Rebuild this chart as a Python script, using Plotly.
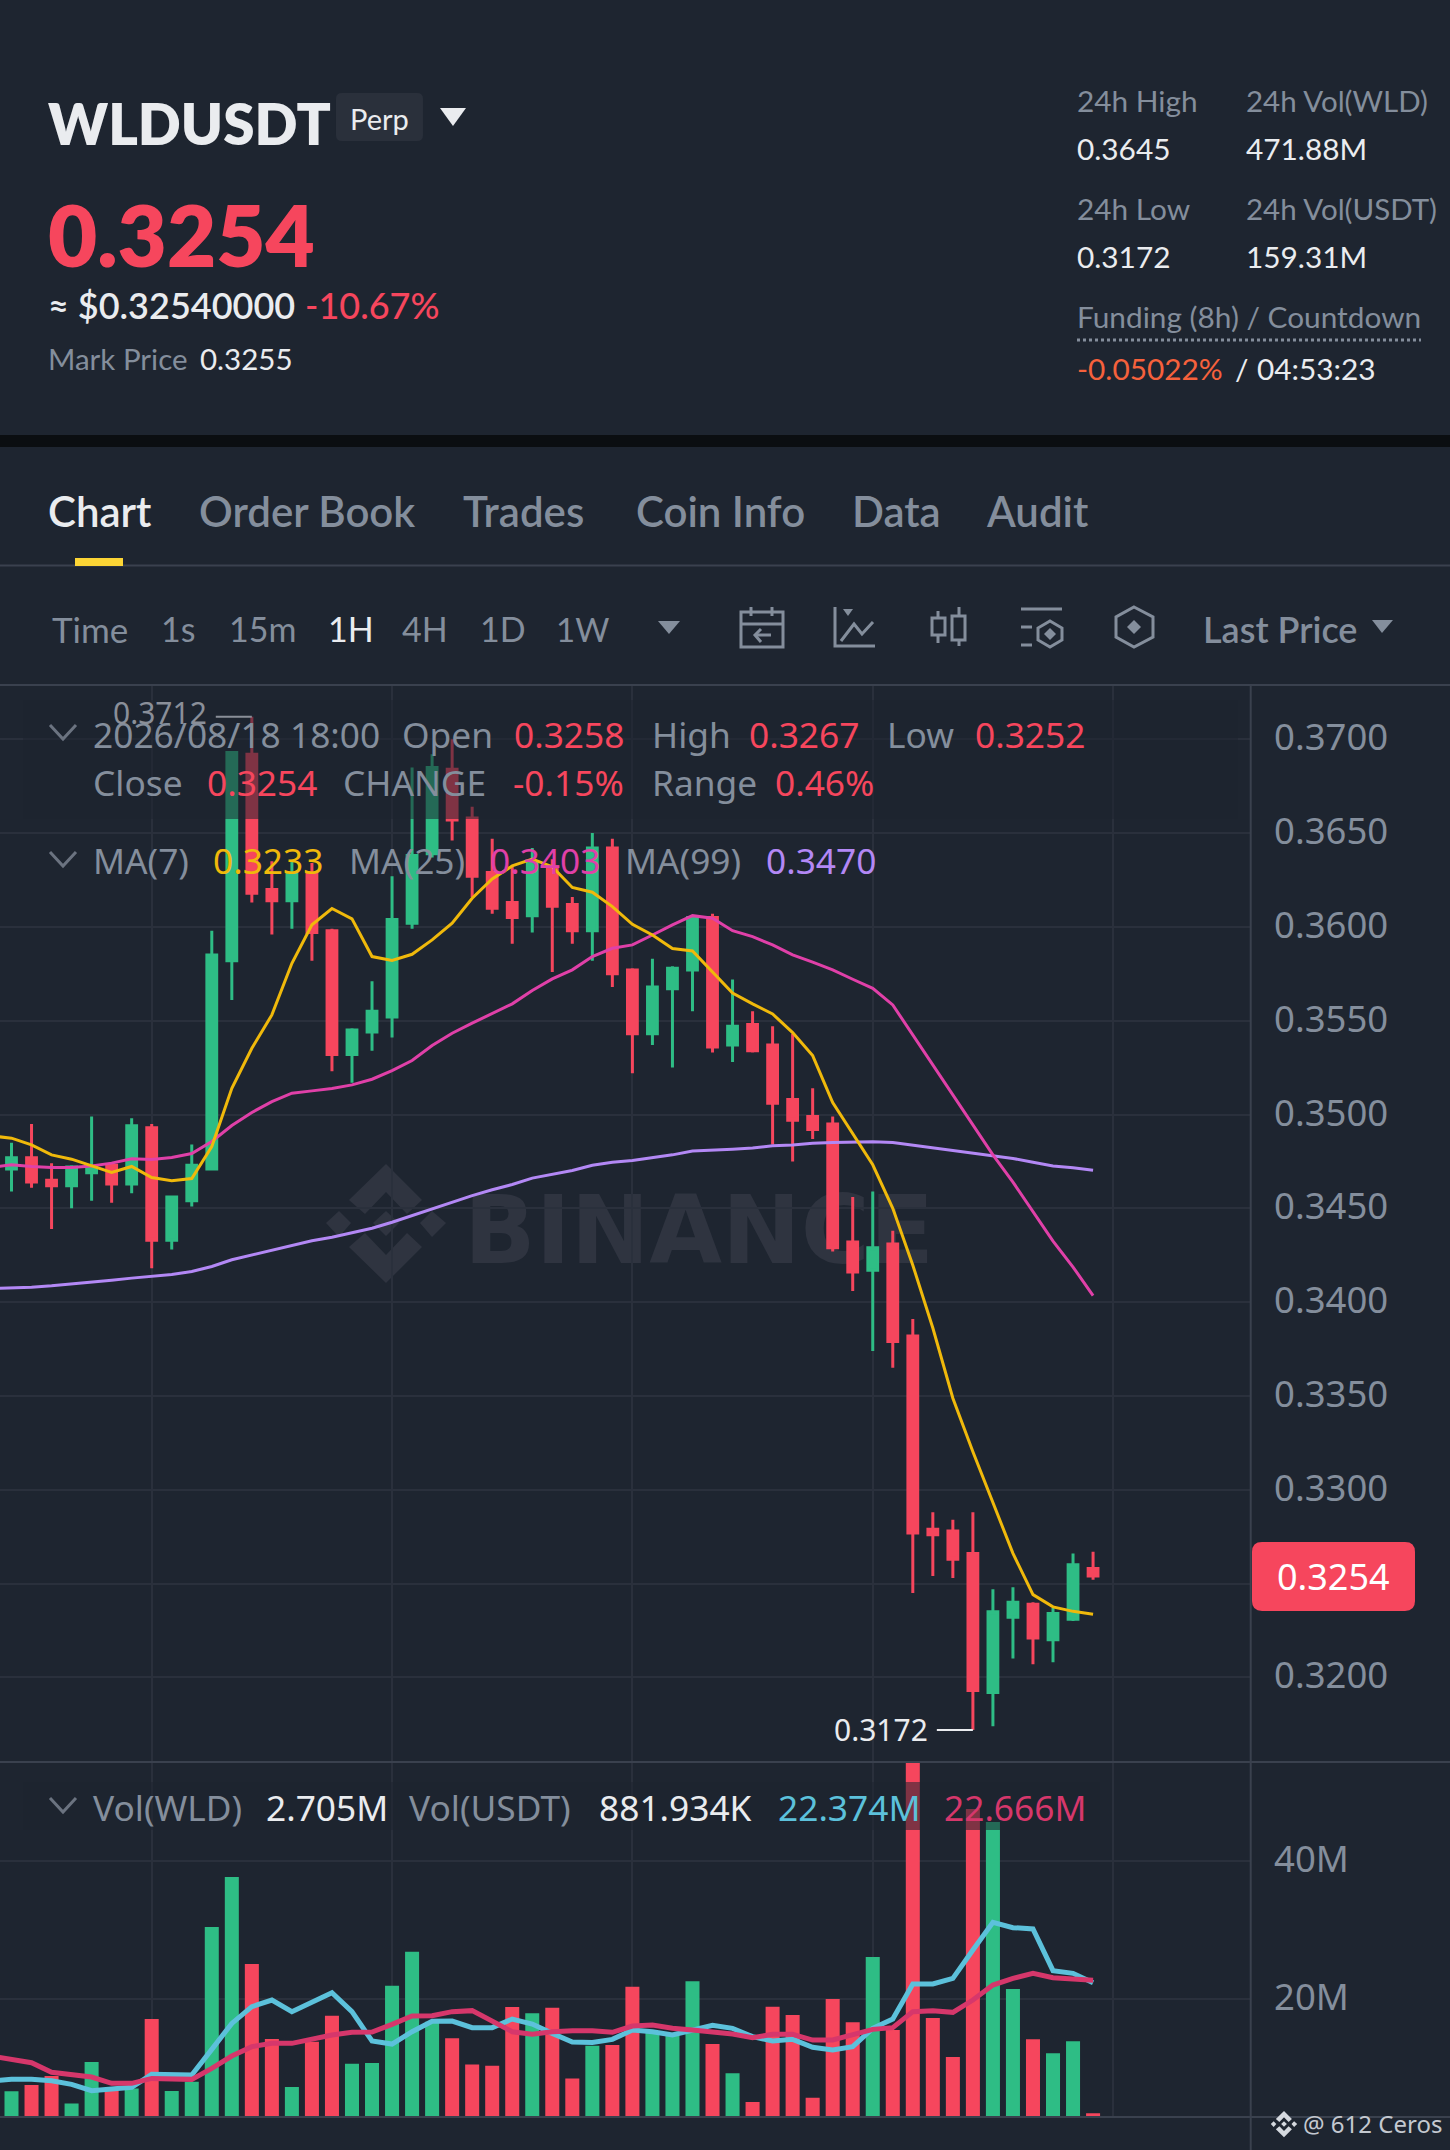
import plotly.graph_objects as go

W = 1450
H = 2150

BG = "#1E2530"
GRID = "#2A303C"
LINE = "#3A414E"
GREEN = "#2EBD85"
RED = "#F6465D"
GRAY = "#848E9C"
WHITE = "#EAECEF"
YELLOW = "#F0B90B"
MAGENTA = "#E040A8"
PURPLE = "#B388F5"

# candles
candle_x = list(range(55))
open_prices = [0.3471, 0.3477, 0.3465, 0.3462, 0.3469, 0.3473, 0.3463, 0.3493, 0.3433, 0.3454, 0.3471,
               0.3582, 0.3692, 0.3620, 0.3614, 0.3628, 0.3598, 0.3532, 0.3544, 0.3552, 0.3602, 0.3639,
               0.3684, 0.3658, 0.3629, 0.3613, 0.3606, 0.3632, 0.3612, 0.3598, 0.3642, 0.3577, 0.3543,
               0.3567, 0.3577, 0.3605, 0.3537, 0.3548, 0.3537, 0.3508, 0.3499, 0.3495, 0.3432, 0.3417,
               0.3431, 0.3382, 0.3279, 0.3278, 0.3266, 0.3192, 0.3232, 0.3239, 0.3220, 0.3231, 0.3258]
high_prices = [0.3485, 0.3495, 0.3474, 0.3473, 0.3499, 0.3474, 0.3498, 0.3495, 0.3456, 0.3484, 0.3598,
               0.3693, 0.3712, 0.3635, 0.3635, 0.3634, 0.3599, 0.3546, 0.3571, 0.3627, 0.3685, 0.3692,
               0.3700, 0.3664, 0.3647, 0.3632, 0.3642, 0.3636, 0.3616, 0.3650, 0.3647, 0.3578, 0.3583,
               0.3579, 0.3606, 0.3607, 0.3572, 0.3555, 0.3547, 0.3543, 0.3514, 0.3499, 0.3456, 0.3459,
               0.3438, 0.3391, 0.3288, 0.3284, 0.3288, 0.3247, 0.3248, 0.3240, 0.3237, 0.3266, 0.3267]
low_prices = [0.3459, 0.3461, 0.3439, 0.3450, 0.3454, 0.3453, 0.3458, 0.3418, 0.3428, 0.3451, 0.3471,
              0.3561, 0.3613, 0.3596, 0.3599, 0.3582, 0.3523, 0.3517, 0.3534, 0.3541, 0.3599, 0.3637,
              0.3646, 0.3616, 0.3607, 0.3591, 0.3597, 0.3576, 0.3591, 0.3582, 0.3568, 0.3522, 0.3537,
              0.3525, 0.3555, 0.3533, 0.3528, 0.3533, 0.3484, 0.3475, 0.3487, 0.3427, 0.3406, 0.3374,
              0.3365, 0.3245, 0.3254, 0.3253, 0.3172, 0.3174, 0.3210, 0.3207, 0.3208, 0.3230, 0.3252]
close_prices = [0.3477, 0.3464, 0.3462, 0.3472, 0.3472, 0.3463, 0.3494, 0.3433, 0.3456, 0.3473, 0.3585,
                0.3693, 0.3618, 0.3614, 0.3628, 0.3597, 0.3532, 0.3545, 0.3555, 0.3604, 0.3638, 0.3685,
                0.3657, 0.3627, 0.3610, 0.3605, 0.3634, 0.3611, 0.3598, 0.3642, 0.3575, 0.3543, 0.3568,
                0.3578, 0.3605, 0.3536, 0.3547, 0.3534, 0.3506, 0.3497, 0.3492, 0.3429, 0.3416, 0.3429,
                0.3379, 0.3277, 0.3276, 0.3263, 0.3193, 0.3235, 0.3240, 0.3221, 0.3234, 0.3260, 0.3254]

# moving averages start one candle left of the visible edge
ma_x = list(range(-1, 55))
ma7 = [0.34886, 0.34874, 0.34838, 0.34785, 0.34762, 0.34726, 0.34691, 0.34723, 0.34664, 0.34647, 0.34659,
       0.34829, 0.3514, 0.35353, 0.35531, 0.35806, 0.36011, 0.36098, 0.36043, 0.35842, 0.35821, 0.35854,
       0.35931, 0.3602, 0.36153, 0.36256, 0.36325, 0.36362, 0.36321, 0.3621, 0.36185, 0.36108, 0.36014,
       0.35957, 0.35885, 0.35872, 0.35762, 0.35647, 0.3559, 0.35536, 0.35437, 0.35314, 0.35064, 0.349,
       0.34732, 0.345, 0.34197, 0.33862, 0.33488, 0.33203, 0.32937, 0.32661, 0.32441, 0.32376, 0.32352,
       0.32337]
ma25 = [0.34719, 0.34732, 0.34723, 0.34718, 0.34718, 0.34726, 0.34741, 0.34764, 0.3476, 0.34771, 0.34792,
        0.34856, 0.34941, 0.35011, 0.35069, 0.35114, 0.35126, 0.35139, 0.35158, 0.35188, 0.35234, 0.35288,
        0.35368, 0.35433, 0.35487, 0.3554, 0.3559, 0.35661, 0.35723, 0.35771, 0.35842, 0.35886, 0.35904,
        0.35957, 0.36011, 0.3606, 0.36046, 0.3598, 0.35948, 0.35904, 0.35851, 0.35812, 0.35771, 0.35721,
        0.35673, 0.35584, 0.35425, 0.35265, 0.35105, 0.34945, 0.34785, 0.3464, 0.34482, 0.34325, 0.34187,
        0.34035]
ma99 = [0.34073, 0.34076, 0.3408, 0.34087, 0.34096, 0.34108, 0.34117, 0.34128, 0.34137, 0.34147, 0.34163,
        0.3419, 0.34226, 0.34252, 0.34275, 0.34302, 0.34327, 0.34346, 0.34371, 0.34394, 0.34426, 0.34462,
        0.34497, 0.34533, 0.34568, 0.34599, 0.34627, 0.34661, 0.34682, 0.34702, 0.3473, 0.34746, 0.34755,
        0.34769, 0.34785, 0.34805, 0.34812, 0.34815, 0.34821, 0.34833, 0.34838, 0.34847, 0.34851, 0.34853,
        0.34855, 0.34851, 0.34837, 0.34824, 0.34812, 0.34796, 0.34782, 0.34766, 0.34746, 0.34726, 0.34716,
        0.34703]

# volume in millions
volumes = [6.59, 7.51, 8.81, 4.84, 10.85, 6.68, 7.0, 17.09, 6.63, 7.99, 30.46, 37.72, 25.08, 14.19, 7.22,
           13.8, 17.58, 10.61, 10.7, 21.94, 26.88, 16.7, 14.29, 10.5, 10.31, 18.84, 17.92, 18.74, 8.47,
           13.22, 13.32, 21.79, 15.25, 14.77, 22.57, 13.46, 9.2, 5.04, 18.89, 17.68, 5.67, 20.0, 16.61,
           26.1, 15.5, 56.0, 17.24, 11.57, 47.6, 45.71, 21.45, 14.14, 12.11, 13.85, 3.4]
vol_ma_a = [8.09, 8.33, 8.33, 8.14, 7.60, 6.68, 6.92, 7.17, 9.06, 8.96, 8.96, 12.69, 16.46, 18.89, 19.85,
            18.16, 19.47, 20.92, 18.16, 13.90, 13.46, 15.25, 16.76, 16.80, 15.84, 15.84, 17.09, 16.37,
            15.01, 13.75, 13.70, 14.14, 15.50, 15.25, 14.77, 15.40, 16.17, 15.74, 14.53, 13.90, 14.14,
            12.98, 12.59, 13.08, 15.74, 17.09, 22.18, 22.18, 23.00, 27.12, 31.14, 30.36, 30.17, 24.12,
            23.73, 22.37]
vol_ma_b = [11.72, 11.28, 10.75, 9.35, 8.96, 8.67, 7.75, 7.75, 8.47, 8.47, 8.33, 9.93, 11.72, 13.08, 13.56,
            13.56, 14.14, 14.77, 15.16, 15.21, 16.32, 17.53, 17.58, 18.16, 18.31, 16.71, 15.25, 14.87,
            15.25, 15.40, 15.40, 15.16, 16.08, 16.22, 15.74, 15.50, 15.16, 14.92, 14.38, 14.87, 14.87,
            14.04, 14.04, 14.77, 15.59, 15.84, 18.16, 18.31, 18.06, 19.85, 22.03, 23.00, 23.73, 23.10,
            22.86, 22.71]

price_ticks = [0.32, 0.325, 0.33, 0.335, 0.34, 0.345, 0.35, 0.355, 0.36, 0.365, 0.37]
price_labels = ["0.3200", "", "0.3300", "0.3350", "0.3400", "0.3450", "0.3500", "0.3550", "0.3600", "0.3650", "0.3700"]
vol_ticks = [20, 40]
vol_labels = ["20M", "40M"]
time_ticks = [7, 19, 31, 43, 55]

PLOT_RIGHT = 1250.7


def px(x):
    return x / W


def py(y):
    return 1 - y / H


annotations = []
shapes = []


def label(text, x, y, color=GRAY, size=30, font="Noto Sans", anchor="left", weight=None):
    if font == "Noto Sans":
        x -= 1
    annotations.append(dict(
        text=text, x=px(x - 1.5), y=py(y - 1.2), xref="paper", yref="paper", xanchor=anchor, yanchor="middle",
        showarrow=False, borderpad=0, font=dict(family=font, size=size, color=color, weight=weight),
    ))


def box(x0, y0, x1, y1, fill, layer="above"):
    shapes.append(dict(type="rect", xref="paper", yref="paper", x0=px(x0), x1=px(x1), y0=py(y0), y1=py(y1),
                       fillcolor=fill, line_width=0, layer=layer))


def hline(x0, x1, y, color=LINE, width=2, dash="solid"):
    shapes.append(dict(type="line", xref="paper", yref="paper", x0=px(x0), x1=px(x1), y0=py(y), y1=py(y),
                       line=dict(color=color, width=width, dash=dash), layer="above"))


def vline(x, y0, y1, color=LINE, width=2):
    shapes.append(dict(type="line", xref="paper", yref="paper", x0=px(x), x1=px(x), y0=py(y0), y1=py(y1),
                       line=dict(color=color, width=width), layer="above"))


def poly(points, fill=None, stroke=None, width=3, close=True, layer="above"):
    path = "M " + " L ".join(f"{px(a):.5f} {py(b):.5f}" for a, b in points)
    if close:
        path += " Z"
    shapes.append(dict(type="path", xref="paper", yref="paper", path=path, fillcolor=fill,
                       line=dict(color=stroke or "rgba(0,0,0,0)", width=width if stroke else 0), layer=layer))


def round_rect(x0, y0, x1, y1, r, fill):
    p = (f"M {px(x0+r):.5f} {py(y0):.5f} L {px(x1-r):.5f} {py(y0):.5f} "
         f"Q {px(x1):.5f} {py(y0):.5f} {px(x1):.5f} {py(y0+r):.5f} L {px(x1):.5f} {py(y1-r):.5f} "
         f"Q {px(x1):.5f} {py(y1):.5f} {px(x1-r):.5f} {py(y1):.5f} L {px(x0+r):.5f} {py(y1):.5f} "
         f"Q {px(x0):.5f} {py(y1):.5f} {px(x0):.5f} {py(y1-r):.5f} L {px(x0):.5f} {py(y0+r):.5f} "
         f"Q {px(x0):.5f} {py(y0):.5f} {px(x0+r):.5f} {py(y0):.5f} Z")
    shapes.append(dict(type="path", xref="paper", yref="paper", path=p, fillcolor=fill, line_width=0, layer="above"))


def binance_logo(cx, cy, s, fill, layer):
    parts = [
        [(0, -59), (36, -23), (21, -9), (0, -31), (-21, -9), (-37, -23)],
        [(0, 60), (36, 24), (21, 10), (0, 32), (-21, 10), (-37, 24)],
        [(-60, 0), (-47, -12), (-35, 0), (-47, 14)],
        [(60, 0), (46, -12), (34, 0), (46, 14)],
        [(0, -12), (13, 0), (0, 13), (-13, 0)],
    ]
    for part in parts:
        poly([(cx + a * s, cy + b * s) for a, b in part], fill=fill, layer=layer)


# page bands and dividers
box(0, 435, W, 447, "#0B0E11")
hline(0, W, 565.5)
box(75, 558, 123, 566, "#FCD535")
hline(0, W, 685)
hline(0, W, 1762)
hline(0, W, 2117)
vline(PLOT_RIGHT, 686, H)

# watermark sits behind the candles
binance_logo(386, 1223, 1.0, "#2F3440", "below")
shapes.append(dict(type="rect", xref="paper", yref="paper", x0=px(470), x1=px(928), y0=py(1180), y1=py(1266),
                   line_width=0, fillcolor="rgba(0,0,0,0)", layer="below",
                   label=dict(text="BINANCE", textposition="middle center",
                              font=dict(family="DejaVu Sans", size=94, color="#2F3440", weight="bold"))))

# dimmed strips behind the legend rows
box(23, 700, 1238, 819, "rgba(30,37,48,0.55)")
box(23, 1782, 1100, 1830, "rgba(30,37,48,0.55)")

# header
label("WLDUSDT", 48, 124, WHITE, 56.5, "Lato", weight=800)
round_rect(336, 93, 423, 141, 6, "#2A303B")
label("Perp", 381, 120, WHITE, 29, "Lato", anchor="center")
poly([(440, 108), (466, 108), (453, 126)], fill=WHITE)
label("0.3254", 48, 235, RED, 85, "Lato", weight=800)
label("≈ $0.32540000", 48, 306, WHITE, 36, "Lato", weight=600)
label("-10.67%", 305, 306, RED, 36, "Lato", weight=500)
label("Mark Price", 48, 360, GRAY, 29.5, "Lato")
label("0.3255", 200, 360, WHITE, 29.5, "Lato")

label("24h High", 1077, 102, GRAY, 29.8, "Lato")
label("24h Vol(WLD)", 1246, 102, GRAY, 29.5, "Lato")
label("0.3645", 1077, 150, WHITE, 29.8, "Lato")
label("471.88M", 1246, 150, WHITE, 29.8, "Lato")
label("24h Low", 1077, 210, GRAY, 29.8, "Lato")
label("24h Vol(USDT)", 1246, 210, GRAY, 29.5, "Lato")
label("0.3172", 1077, 258, WHITE, 29.8, "Lato")
label("159.31M", 1246, 258, WHITE, 29.8, "Lato")
label("Funding (8h) / Countdown", 1077, 318, GRAY, 29.8, "Lato")
hline(1077, 1421, 340, GRAY, 3, "dot")
label("-0.05022%", 1077, 370, "#F6613C", 29.8, "Lato")
label("/", 1235, 370, WHITE, 29.8, "Lato")
label("04:53:23", 1257, 370, WHITE, 29.8, "Lato")

# tabs
label("Chart", 48, 512, WHITE, 42, "Lato", weight=600)
label("Order Book", 199, 512, GRAY, 42, "Lato", weight=600)
label("Trades", 463, 512, GRAY, 42, "Lato", weight=600)
label("Coin Info", 636, 512, GRAY, 42, "Lato", weight=600)
label("Data", 852, 512, GRAY, 42, "Lato", weight=600)
label("Audit", 986, 512, GRAY, 42, "Lato", weight=600)

# interval row
label("Time", 52, 630, GRAY, 35, "Lato")
label("1s", 161, 630, GRAY, 34, "Lato")
label("15m", 229, 630, GRAY, 34, "Lato")
label("1H", 328, 630, WHITE, 34, "Lato")
label("4H", 403, 630, GRAY, 34, "Lato")
label("1D", 480, 630, GRAY, 34, "Lato")
label("1W", 556, 630, GRAY, 33, "Lato")
poly([(658, 621), (680, 621), (669, 634)], fill=GRAY)
label("Last Price", 1203, 630, GRAY, 36, "Lato", weight=600)
poly([(1372, 620), (1393, 620), (1382, 633)], fill=GRAY)

# toolbar icons
poly([(741, 612), (783, 612), (783, 647), (741, 647)], stroke=GRAY)
poly([(751, 607), (751, 616)], stroke=GRAY, close=False)
poly([(772, 607), (772, 616)], stroke=GRAY, close=False)
poly([(741, 624), (783, 624)], stroke=GRAY, close=False)
poly([(771, 635), (755, 635)], stroke=GRAY, close=False)
poly([(761, 629), (755, 635), (761, 642)], stroke=GRAY, close=False)
poly([(835, 607), (835, 646), (875, 646)], stroke=GRAY, close=False)
poly([(843, 609), (853, 609), (848, 616)], fill=GRAY)
poly([(841, 641), (854, 624), (862, 634), (873, 622)], stroke=GRAY, close=False)
poly([(932, 618), (945, 618), (945, 635), (932, 635)], stroke=GRAY)
poly([(938, 611), (938, 618)], stroke=GRAY, close=False)
poly([(938, 635), (938, 643)], stroke=GRAY, close=False)
poly([(952, 616), (965, 616), (965, 640), (952, 640)], stroke=GRAY)
poly([(959, 607), (959, 616)], stroke=GRAY, close=False)
poly([(959, 640), (959, 646)], stroke=GRAY, close=False)
poly([(1021, 609), (1062, 609)], stroke=GRAY, close=False)
poly([(1021, 627), (1032, 627)], stroke=GRAY, close=False)
poly([(1021, 645), (1032, 645)], stroke=GRAY, close=False)
poly([(1050, 621), (1062, 628), (1062, 640), (1050, 647), (1038, 640), (1038, 628)], stroke=GRAY)
poly([(1050, 628), (1056, 634), (1050, 640), (1044, 634)], fill=GRAY)
poly([(1134, 607), (1153, 617), (1153, 637), (1134, 647), (1116, 637), (1116, 617)], stroke=GRAY)
poly([(1134, 620), (1141, 627), (1134, 634), (1127, 627)], fill=GRAY)

# price legend
for top in (725, 852):
    poly([(50, top), (63, top + 14), (76, top)], stroke="#6B7380", close=False)
poly([(50, 1798), (63, 1812), (76, 1798)], stroke="#6B7380", close=False)

label("2026/08/18 18:00", 94, 735, GRAY, 35.3)
label("Open", 404, 735, GRAY, 35.3)
label("0.3258", 515, 735, RED, 35.3)
label("High", 653, 735, GRAY, 35.3)
label("0.3267", 750, 735, RED, 35.3)
label("Low", 888, 735, GRAY, 35.3)
label("0.3252", 976, 735, RED, 35.3)
label("Close", 94, 783, GRAY, 35.3)
label("0.3254", 208, 783, RED, 35.3)
label("CHANGE", 344, 783, GRAY, 35.3)
label("-0.15%", 514, 783, RED, 35.3)
label("Range", 653, 783, GRAY, 35.3)
label("0.46%", 777, 783, RED, 35.3)
label("MA(7)", 94, 861, GRAY, 35.3)
label("0.3233", 214, 861, YELLOW, 35.3)
label("MA(25)", 350, 861, GRAY, 35.3)
label("0.3403", 491, 861, MAGENTA, 35.3)
label("MA(99)", 626, 861, GRAY, 35.3)
label("0.3470", 767, 861, PURPLE, 35.3)

# volume legend
label("Vol(WLD)", 94, 1808, GRAY, 35.3)
label("2.705M", 267, 1808, WHITE, 35.3)
label("Vol(USDT)", 411, 1808, GRAY, 35.3)
label("881.934K", 600, 1808, WHITE, 35.3)
label("22.374M", 779, 1808, "#5CC1DB", 35.3)
label("22.666M", 945, 1808, "#D6376B", 35.3)

# footer logo
binance_logo(1284, 2124, 0.22, "#D5D9DF", "above")
label("@ 612 Ceros", 1304, 2125, "#C4C9D0", 24)

# axis labels sit right of the plot, tied to the tick values
for value, text in zip(price_ticks, price_labels):
    annotations.append(dict(text=text, x=px(1273), y=value, xref="paper", yref="y2", xanchor="left", yanchor="middle",
                            yshift=3, showarrow=False, borderpad=0,
                            font=dict(family="Noto Sans", size=36.5, color=GRAY)))
for value, text in zip(vol_ticks, vol_labels):
    annotations.append(dict(text=text, x=px(1273), y=value, xref="paper", yref="y", xanchor="left", yanchor="middle",
                            yshift=3, showarrow=False, borderpad=0,
                            font=dict(family="Noto Sans", size=36.5, color=GRAY)))

# high / low marks, tied to the data
high_i = high_prices.index(max(high_prices))
low_i = low_prices.index(min(low_prices))
annotations.append(dict(text="0.3712", x=high_i - 2.2, y=max(high_prices), xref="x2", yref="y2", xanchor="right",
                        yanchor="middle", yshift=4, showarrow=False, borderpad=0,
                        font=dict(family="Noto Sans", size=30, color="#8A8F99")))
shapes.append(dict(type="line", xref="x2", yref="y2", x0=high_i - 1.8, x1=high_i, y0=max(high_prices), y1=max(high_prices),
                   line=dict(color="#8A8F99", width=2), layer="above"))
annotations.append(dict(text="0.3172", x=low_i - 2.2, y=min(low_prices), xref="x2", yref="y2", xanchor="right",
                        yanchor="middle", showarrow=False, borderpad=0,
                        font=dict(family="Noto Sans", size=30, color=WHITE)))
shapes.append(dict(type="line", xref="x2", yref="y2", x0=low_i - 1.8, x1=low_i, y0=min(low_prices), y1=min(low_prices),
                   line=dict(color=WHITE, width=2), layer="above"))

# last price tag
round_rect(1252, 1542, 1415, 1611, 10, RED)
annotations.append(dict(text=f"{close_prices[-1]:.4f}", x=px(1333), y=close_prices[-1], xref="paper", yref="y2",
                        xanchor="center", yanchor="middle", showarrow=False, borderpad=0,
                        font=dict(family="Noto Sans", size=36, color="#FFFFFF")))

fig = go.Figure()

bar_colors = [GREEN if c >= o else RED for o, c in zip(open_prices, close_prices)]
fig.add_trace(go.Bar(x=candle_x, y=volumes, marker=dict(color=bar_colors, line_width=0), width=0.7,
                     xaxis="x", yaxis="y", showlegend=False, hoverinfo="skip"))
fig.add_trace(go.Scatter(x=ma_x, y=vol_ma_a, mode="lines", line=dict(color="#5CC1DB", width=5), xaxis="x", yaxis="y",
                         showlegend=False, hoverinfo="skip"))
fig.add_trace(go.Scatter(x=ma_x, y=vol_ma_b, mode="lines", line=dict(color="#D6376B", width=5), xaxis="x", yaxis="y",
                         showlegend=False, hoverinfo="skip"))

fig.add_trace(go.Candlestick(
    x=candle_x, open=open_prices, high=high_prices, low=low_prices, close=close_prices,
    increasing=dict(line=dict(color=GREEN, width=3), fillcolor=GREEN),
    decreasing=dict(line=dict(color=RED, width=3), fillcolor=RED),
    whiskerwidth=0, xaxis="x2", yaxis="y2", showlegend=False, hoverinfo="skip",
))
fig.add_trace(go.Scatter(x=ma_x, y=ma99, mode="lines", line=dict(color=PURPLE, width=3), xaxis="x2", yaxis="y2",
                         showlegend=False, hoverinfo="skip"))
fig.add_trace(go.Scatter(x=ma_x, y=ma25, mode="lines", line=dict(color=MAGENTA, width=3), xaxis="x2", yaxis="y2",
                         showlegend=False, hoverinfo="skip"))
fig.add_trace(go.Scatter(x=ma_x, y=ma7, mode="lines", line=dict(color=YELLOW, width=3), xaxis="x2", yaxis="y2",
                         showlegend=False, hoverinfo="skip"))

x_range = [-0.574, 61.87]
x_domain = [0, PLOT_RIGHT / W]
x_axis = dict(domain=x_domain, range=x_range, tickmode="array", tickvals=time_ticks, showticklabels=False, ticks="",
              showgrid=True, gridcolor=GRID, gridwidth=2, zeroline=False, showline=False, fixedrange=True)

fig.update_layout(
    width=W,
    height=H,
    margin=dict(l=0, r=0, t=0, b=0),
    paper_bgcolor=BG,
    plot_bgcolor=BG,
    showlegend=False,
    xaxis=dict(x_axis, anchor="y"),
    xaxis2=dict(x_axis, anchor="y2", rangeslider=dict(visible=False)),
    yaxis=dict(domain=[py(2117.3), py(1762)], range=[2.82, 54.42], side="right", anchor="x",
               tickmode="array", tickvals=vol_ticks, showticklabels=False, ticks="", showgrid=True, gridcolor=GRID,
               gridwidth=2, zeroline=False, showline=False, fixedrange=True),
    yaxis2=dict(domain=[py(1762), py(686)], range=[0.31549, 0.37284], side="right", anchor="x2",
                tickmode="array", tickvals=price_ticks, showticklabels=False, ticks="", showgrid=True, gridcolor=GRID,
                gridwidth=2, zeroline=False, showline=False, fixedrange=True),
    shapes=shapes,
    annotations=annotations,
)

fig.write_html("out.html", config=dict(displayModeBar=False),
               post_script="document.body.style.margin='0';document.body.style.background='#1E2530';")
